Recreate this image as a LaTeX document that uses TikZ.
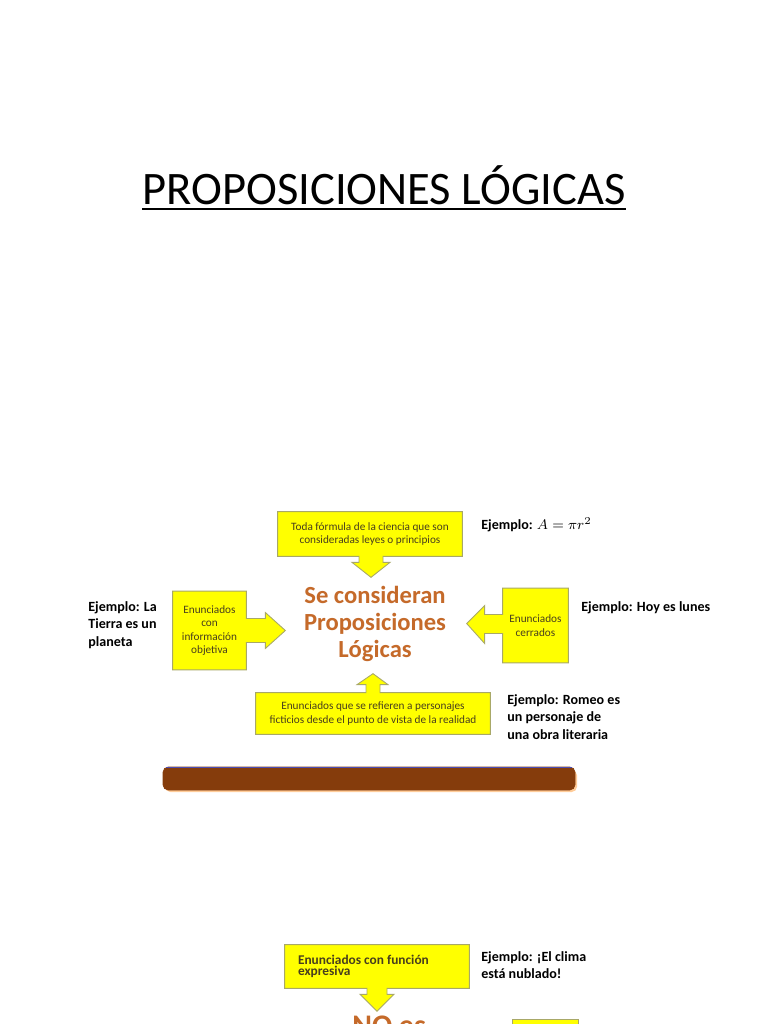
\documentclass[tikz,border=0pt]{standalone}
\usepackage{fontspec}
\setmainfont{Carlito}
\usetikzlibrary{calc,backgrounds}

\definecolor{boxyellow}{RGB}{255,255,0}
\definecolor{boxline}{RGB}{168,168,104}
\definecolor{boxtext}{RGB}{72,62,30}
\definecolor{proporange}{RGB}{197,106,42}
\definecolor{barbrown}{RGB}{133,60,12}

\tikzset{
	callout/.style={fill=boxyellow,draw=boxline,line width=0.5pt},
	boxtxt/.style={inner sep=0,text=boxtext,align=center,font=\fontsize{6.4}{7.6}\selectfont},
	ejemplo/.style={anchor=north west,inner sep=0,align=left,font=\bfseries\fontsize{8}{10}\selectfont},
}

\begin{document}
\begin{tikzpicture}[x=0.02cm,y=-0.02cm]
		\useasboundingbox (0,0) rectangle (768,1024);
		\clip (0,0) rectangle (768,1024);
		% title
		\node[inner sep=0,font=\fontsize{26.5}{32}\selectfont] (title) at (384,185) {PROPOSICIONES LÓGICAS};
		\draw[line width=1.1pt] ([yshift=-2.5pt]title.base west) -- ([yshift=-2.5pt]title.base east);
		% yellow boxes
		\node[boxtxt,minimum width=3.68cm,minimum height=0.88cm] (formula) at (370,534) {Toda fórmula de la ciencia que son\\consideradas leyes o principios};
		\node[boxtxt,minimum width=1.46cm,minimum height=1.56cm] (objetiva) at (209.5,630.5) {Enunciados\\con\\información\\objetiva};
		\node[boxtxt,minimum width=1.30cm,minimum height=1.48cm] (cerrados) at (535.5,625.5) {Enunciados\\cerrados};
		\node[boxtxt,minimum width=4.68cm,minimum height=0.82cm] (ficticios) at (373,713.5) {Enunciados que se refieren a personajes\\ficticios desde el punto de vista de la realidad};
		\node[boxtxt,align=flush left,text width=3.16cm,inner xsep=0.26cm,minimum height=0.86cm,font=\bfseries\fontsize{7.6}{6.4}\selectfont] (expresiva) at (377,966.5) {Enunciados con función\\expresiva};
		\node[boxtxt,minimum width=1.30cm,minimum height=0.8cm] (otro) at (545.5,1040) {};
		% callout outlines
		\begin{scope}[on background layer]
			\fill[white] (0,0) rectangle (768,1024);
			\draw[callout] (formula.south west) -- (formula.north west) -- (formula.north east) -- (formula.south east)
				-- ($(formula.south)+(13,0)$) -- ++(0,6) -- ++(7,0) -- ($(formula.south)+(1,21)$)
				-- ($(formula.south)+(-18,6)$) -- ++(7,0) -- ($(formula.south)+(-11,0)$) -- cycle;
			\draw[callout] (objetiva.north east) -- (objetiva.north west) -- (objetiva.south west) -- (objetiva.south east)
				-- ($(objetiva.east)+(0,12)$) -- ++(19,0) -- ++(0,6) -- ($(objetiva.east)+(39,0)$)
				-- ($(objetiva.east)+(19,-18)$) -- ++(0,6) -- ($(objetiva.east)+(0,-12)$) -- cycle;
			\draw[callout] (cerrados.north west) -- (cerrados.north east) -- (cerrados.south east) -- (cerrados.south west)
				-- ($(cerrados.west)+(0,8)$) -- ++(-18,0) -- ++(0,10) -- ($(cerrados.west)+(-36,-2)$)
				-- ($(cerrados.west)+(-18,-20)$) -- ++(0,9) -- ($(cerrados.west)+(0,-11)$) -- cycle;
			\draw[callout] (ficticios.north west) -- (ficticios.south west) -- (ficticios.south east) -- (ficticios.north east)
				-- ($(ficticios.north)+(7,0)$) -- ++(0,-8) -- ++(8,0) -- ($(ficticios.north)+(0,-19)$)
				-- ($(ficticios.north)+(-16,-8)$) -- ++(9,0) -- ($(ficticios.north)+(-7,0)$) -- cycle;
			\draw[callout] (expresiva.south west) -- (expresiva.north west) -- (expresiva.north east) -- (expresiva.south east)
				-- ($(expresiva.south)+(10,0)$) -- ++(0,6) -- ++(7,0) -- ($(expresiva.south)+(0,23)$)
				-- ($(expresiva.south)+(-17,6)$) -- ++(7,0) -- ($(expresiva.south)+(-10,0)$) -- cycle;
			\draw[callout] (otro.south west) rectangle (otro.north east);
		\end{scope}
		% central text
		\node[inner sep=0,align=center,text=proporange,font=\bfseries\fontsize{14}{15.6}\selectfont] (centro) at (375,624) {Se consideran\\Proposiciones\\Lógicas};
		\node[anchor=north west,inner sep=0,text=proporange,font=\bfseries\fontsize{17}{18}\selectfont] (noes) at (352,1016) {NO es};
		% examples
		\node[ejemplo] (ejA) at (481,517) {Ejemplo: $A=\pi r^2$};
		\node[ejemplo] (ejTierra) at (88,601) {Ejemplo: La\\Tierra es un\\planeta};
		\node[ejemplo] (ejLunes) at (581,601) {Ejemplo: Hoy es lunes};
		\node[ejemplo] (ejRomeo) at (507,694) {Ejemplo: Romeo es\\un personaje de\\una obra literaria};
		\node[ejemplo] (ejClima) at (481,951) {Ejemplo: ¡El clima\\está nublado!};
		% brown bar
		\fill[orange!40,rounded corners=3] (165,770) rectangle (577,792);
		\draw[barbrown,fill=barbrown,rounded corners=3] (163,767) rectangle (575,790);
		\draw[blue!40!gray,line width=0.4pt] (166,767) -- (572,767);
	\end{tikzpicture}
\end{document}
